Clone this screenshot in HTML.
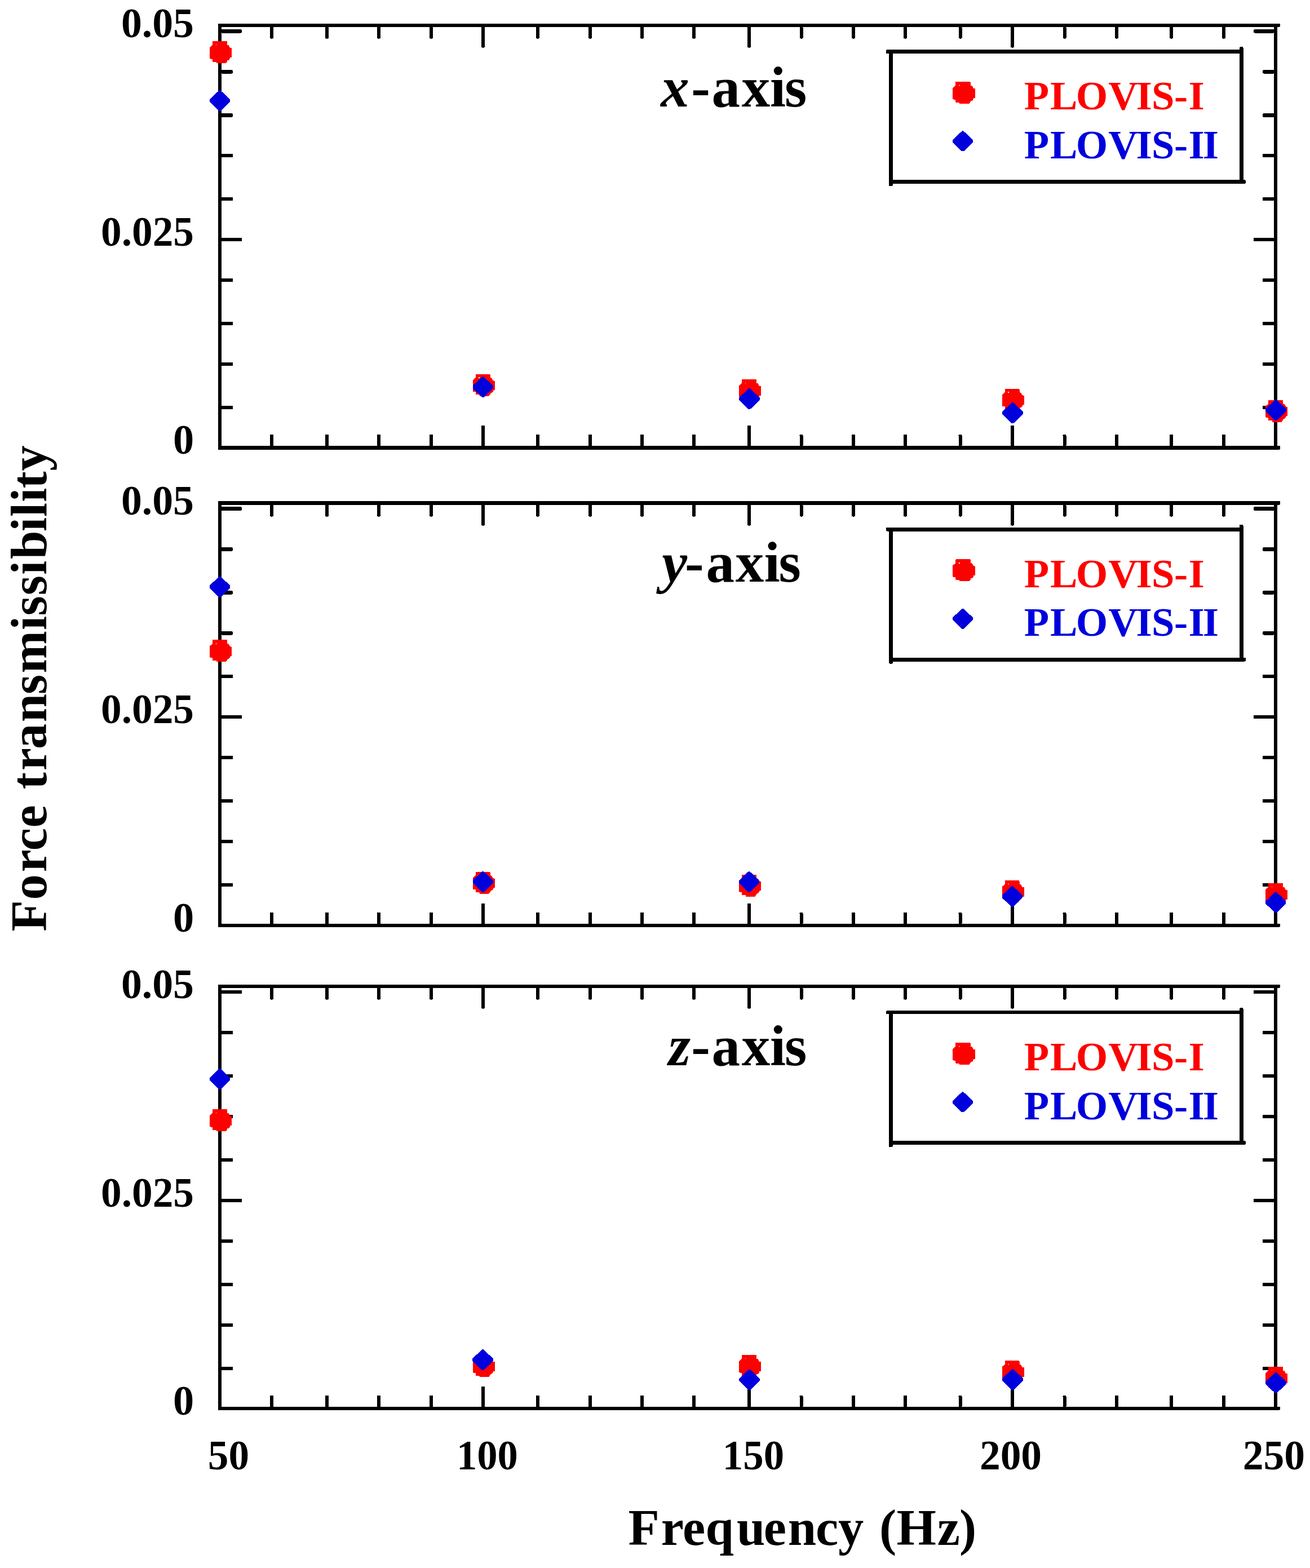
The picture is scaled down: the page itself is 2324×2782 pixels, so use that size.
<!DOCTYPE html>
<html lang="en">
<head>
<meta charset="utf-8">
<title>Force transmissibility vs. frequency</title>
<style>
html, body { margin: 0; padding: 0; background: #ffffff; }
body { width: 2324px; height: 2782px; overflow: hidden; }
svg { display: block; font-family: "Liberation Serif", "DejaVu Serif", serif; font-weight: bold; font-kerning: none; }
svg text { white-space: pre; }
svg rect, svg path { shape-rendering: crispEdges; }
</style>
</head>
<body>
<svg width="2324" height="2782" viewBox="0 0 2324 2782" role="img" aria-label="Force transmissibility versus frequency for PLOVIS-I and PLOVIS-II along the x, y and z axes">
<rect x="0" y="0" width="2324" height="2782" fill="#ffffff"/>
<g class="panel panel-x">
<g class="ticks">
<rect x="392" y="52.05" width="37" height="6.5" rx="2"/>
<rect x="2224" y="52.05" width="37" height="6.5" rx="2"/>
<rect x="392" y="124.05" width="21" height="6.5" rx="2"/>
<rect x="2240" y="124.05" width="21" height="6.5" rx="2"/>
<rect x="392" y="201.25" width="21" height="6.5" rx="2"/>
<rect x="2240" y="201.25" width="21" height="6.5" rx="2"/>
<rect x="392" y="272.65" width="21" height="6.5" rx="2"/>
<rect x="2240" y="272.65" width="21" height="6.5" rx="2"/>
<rect x="392" y="349.65" width="21" height="6.5" rx="2"/>
<rect x="2240" y="349.65" width="21" height="6.5" rx="2"/>
<rect x="392" y="421.55" width="37" height="6.5" rx="2"/>
<rect x="2224" y="421.55" width="37" height="6.5" rx="2"/>
<rect x="392" y="493.65" width="21" height="6.5" rx="2"/>
<rect x="2240" y="493.65" width="21" height="6.5" rx="2"/>
<rect x="392" y="570.55" width="21" height="6.5" rx="2"/>
<rect x="2240" y="570.55" width="21" height="6.5" rx="2"/>
<rect x="392" y="642.55" width="21" height="6.5" rx="2"/>
<rect x="2240" y="642.55" width="21" height="6.5" rx="2"/>
<rect x="392" y="719.75" width="21" height="6.5" rx="2"/>
<rect x="2240" y="719.75" width="21" height="6.5" rx="2"/>
<rect x="479" y="47" width="6" height="21.5" rx="2"/>
<rect x="479" y="770.5" width="6" height="21.5" rx="2"/>
<rect x="577" y="47" width="6" height="21.5" rx="2"/>
<rect x="577" y="770.5" width="6" height="21.5" rx="2"/>
<rect x="669" y="47" width="6" height="21.5" rx="2"/>
<rect x="669" y="770.5" width="6" height="21.5" rx="2"/>
<rect x="762" y="47" width="6" height="21.5" rx="2"/>
<rect x="762" y="770.5" width="6" height="21.5" rx="2"/>
<rect x="854" y="47" width="6" height="37.5" rx="2"/>
<rect x="854" y="754.5" width="6" height="37.5" rx="2"/>
<rect x="951" y="47" width="6" height="21.5" rx="2"/>
<rect x="951" y="770.5" width="6" height="21.5" rx="2"/>
<rect x="1044" y="47" width="6" height="21.5" rx="2"/>
<rect x="1044" y="770.5" width="6" height="21.5" rx="2"/>
<rect x="1136" y="47" width="6" height="21.5" rx="2"/>
<rect x="1136" y="770.5" width="6" height="21.5" rx="2"/>
<rect x="1228" y="47" width="6" height="21.5" rx="2"/>
<rect x="1228" y="770.5" width="6" height="21.5" rx="2"/>
<rect x="1326" y="47" width="6" height="37.5" rx="2"/>
<rect x="1326" y="754.5" width="6" height="37.5" rx="2"/>
<rect x="1418.5" y="47" width="6" height="21.5" rx="2"/>
<rect x="1418.5" y="770.5" width="6" height="21.5" rx="2"/>
<rect x="1511" y="47" width="6" height="21.5" rx="2"/>
<rect x="1511" y="770.5" width="6" height="21.5" rx="2"/>
<rect x="1603" y="47" width="6" height="21.5" rx="2"/>
<rect x="1603" y="770.5" width="6" height="21.5" rx="2"/>
<rect x="1700.5" y="47" width="6" height="21.5" rx="2"/>
<rect x="1700.5" y="770.5" width="6" height="21.5" rx="2"/>
<rect x="1793" y="47" width="6" height="37.5" rx="2"/>
<rect x="1793" y="754.5" width="6" height="37.5" rx="2"/>
<rect x="1885.5" y="47" width="6" height="21.5" rx="2"/>
<rect x="1885.5" y="770.5" width="6" height="21.5" rx="2"/>
<rect x="1978" y="47" width="6" height="21.5" rx="2"/>
<rect x="1978" y="770.5" width="6" height="21.5" rx="2"/>
<rect x="2075" y="47" width="6" height="21.5" rx="2"/>
<rect x="2075" y="770.5" width="6" height="21.5" rx="2"/>
<rect x="2168" y="47" width="6" height="21.5" rx="2"/>
<rect x="2168" y="770.5" width="6" height="21.5" rx="2"/>
</g>
<g class="frame">
<rect x="387" y="42" width="1884" height="6" rx="2"/>
<rect x="387" y="791" width="1884" height="7" rx="2"/>
<rect x="387" y="42" width="6" height="756" fill="#000"/>
<rect x="2260" y="42" width="6" height="756" fill="#000"/>
</g>
<g class="ylabels">
<text transform="translate(214.89 66) scale(0.9837 1)" font-size="75">0.05</text>
<text transform="translate(179.11 435.5) scale(0.9770 1)" font-size="75">0.025</text>
<text transform="translate(306.97 805) scale(0.9910 1)" font-size="75">0</text>
</g>
<g class="series">
<path d="M377.5 72.9L402.5 72.9L403.0 74.7L403.0 79.7L405.7 80.2L408.0 84.7L411.0 85.2L411.0 101.6L408.0 102.1L408.0 103.9L405.7 106.7L403.0 107.1L403.0 108.9L400.7 111.9L384.3 111.9L383.8 109.8L377.5 109.8L377.0 104.8L374.3 104.8L372.0 103.4L372.0 84.3L372.5 83.8L377.0 79.7L377.0 73.8Z" fill="#ff0000"/>
<rect x="382.9" y="78.8" width="1.3" height="1.5" fill="#fff"/>
<path d="M844.0 663.5L869.0 663.5L869.5 665.3L869.5 670.3L872.2 670.8L874.5 675.3L877.5 675.8L877.5 692.2L874.5 692.7L874.5 694.5L872.2 697.3L869.5 697.7L869.5 699.5L867.2 702.5L850.8 702.5L850.3 700.4L844.0 700.4L843.5 695.4L840.8 695.4L838.5 694.0L838.5 674.9L839.0 674.4L843.5 670.3L843.5 664.4Z" fill="#ff0000"/>
<rect x="849.4" y="669.4" width="1.3" height="1.5" fill="#fff"/>
<path d="M1316.5 673.0L1341.5 673.0L1342.0 674.8L1342.0 679.8L1344.7 680.3L1347.0 684.8L1350.0 685.3L1350.0 701.7L1347.0 702.2L1347.0 704.0L1344.7 706.8L1342.0 707.2L1342.0 709.0L1339.7 712.0L1323.3 712.0L1322.8 709.9L1316.5 709.9L1316.0 704.9L1313.3 704.9L1311.0 703.5L1311.0 684.4L1311.5 683.9L1316.0 679.8L1316.0 673.9Z" fill="#ff0000"/>
<rect x="1321.9" y="678.9" width="1.3" height="1.5" fill="#fff"/>
<path d="M1783.0 689.5L1808.0 689.5L1808.5 691.3L1808.5 696.3L1811.2 696.8L1813.5 701.3L1816.5 701.8L1816.5 718.2L1813.5 718.7L1813.5 720.5L1811.2 723.3L1808.5 723.7L1808.5 725.5L1806.2 728.5L1789.8 728.5L1789.3 726.4L1783.0 726.4L1782.5 721.4L1779.8 721.4L1777.5 720.0L1777.5 700.9L1778.0 700.4L1782.5 696.3L1782.5 690.4Z" fill="#ff0000"/>
<rect x="1788.4" y="695.4" width="1.3" height="1.5" fill="#fff"/>
<path d="M2250.5 709.5L2275.5 709.5L2276.0 711.3L2276.0 716.3L2278.7 716.8L2281.0 721.3L2284.0 721.8L2284.0 738.2L2281.0 738.7L2281.0 740.5L2278.7 743.3L2276.0 743.7L2276.0 745.5L2273.7 748.5L2257.3 748.5L2256.8 746.4L2250.5 746.4L2250.0 741.4L2247.3 741.4L2245.0 740.0L2245.0 720.9L2245.5 720.4L2250.0 716.3L2250.0 710.4Z" fill="#ff0000"/>
<rect x="2255.9" y="715.4" width="1.3" height="1.5" fill="#fff"/>
<path d="M389.0 160.2L391.0 160.2L408.1 176.3L408.1 180.9L391.7 196.9L388.3 196.9L371.9 180.9L371.9 176.3Z" fill="#0000dc"/>
<path d="M855.7 668.1L857.7 668.1L874.8 684.2L874.8 688.8L858.4 704.8L855.0 704.8L838.6 688.8L838.6 684.2Z" fill="#0000dc"/>
<path d="M1328.5 689.1L1330.5 689.1L1347.6 705.2L1347.6 709.8L1331.2 725.8L1327.8 725.8L1311.4 709.8L1311.4 705.2Z" fill="#0000dc"/>
<path d="M1795.5 714.1L1797.5 714.1L1814.6 730.2L1814.6 734.8L1798.2 750.8L1794.8 750.8L1778.4 734.8L1778.4 730.2Z" fill="#0000dc"/>
<path d="M2262.5 709.1L2264.5 709.1L2281.6 725.2L2281.6 729.8L2265.2 745.8L2261.8 745.8L2245.4 729.8L2245.4 725.2Z" fill="#0000dc"/>
</g>
<g class="legend">
<rect x="1572" y="88" width="633" height="7" rx="2"/>
<rect x="1578" y="319" width="632" height="7" rx="2.5"/>
<rect x="1577" y="88" width="7" height="242" rx="2"/>
<rect x="2199" y="83" width="6.5" height="243" rx="2"/>
<path d="M1695.6 144.9L1721.3 144.9L1721.8 146.7L1721.8 151.7L1724.6 152.2L1726.9 156.7L1730.0 157.2L1730.0 173.6L1726.9 174.1L1726.9 175.9L1724.6 178.7L1721.8 179.1L1721.8 180.9L1719.4 183.9L1702.6 183.9L1702.1 181.8L1695.6 181.8L1695.1 176.8L1692.4 176.8L1690.0 175.4L1690.0 156.3L1690.5 155.8L1695.1 151.7L1695.1 145.8Z" fill="#ff0000"/>
<rect x="1701.4" y="150.8" width="1.3" height="1.5" fill="#fff"/>
<path d="M1707.0 232.2L1709.0 232.2L1725.8 248.0L1725.8 252.6L1709.7 268.3L1706.3 268.3L1690.2 252.6L1690.2 248.0Z" fill="#0000dc"/>
<text x="1816.8 1862.9 1908.8 1966.2 2015.5 2043.0 2083.1 2108.5" y="194.1" font-size="72.6" fill="#ff0000">PLOVIS-I</text>
<text x="1816.8 1862.9 1908.8 1966.2 2015.5 2043.0 2083.1 2108.5 2133.8" y="280.8" font-size="72.6" fill="#0000dc">PLOVIS-II</text>
</g>
<text class="plabel" x="1172.2 1226.2 1262.6 1315.7 1365.9 1392.0" y="189.4" font-size="101"><tspan font-style="italic">x</tspan>-axis</text>
</g>
<g class="panel panel-y">
<g class="ticks">
<rect x="392" y="899.25" width="37" height="6.5" rx="2"/>
<rect x="2224" y="899.25" width="37" height="6.5" rx="2"/>
<rect x="392" y="971.25" width="21" height="6.5" rx="2"/>
<rect x="2240" y="971.25" width="21" height="6.5" rx="2"/>
<rect x="392" y="1048.05" width="21" height="6.5" rx="2"/>
<rect x="2240" y="1048.05" width="21" height="6.5" rx="2"/>
<rect x="392" y="1120.05" width="21" height="6.5" rx="2"/>
<rect x="2240" y="1120.05" width="21" height="6.5" rx="2"/>
<rect x="392" y="1196.85" width="21" height="6.5" rx="2"/>
<rect x="2240" y="1196.85" width="21" height="6.5" rx="2"/>
<rect x="392" y="1268.55" width="37" height="6.5" rx="2"/>
<rect x="2224" y="1268.55" width="37" height="6.5" rx="2"/>
<rect x="392" y="1340.55" width="21" height="6.5" rx="2"/>
<rect x="2240" y="1340.55" width="21" height="6.5" rx="2"/>
<rect x="392" y="1417.75" width="21" height="6.5" rx="2"/>
<rect x="2240" y="1417.75" width="21" height="6.5" rx="2"/>
<rect x="392" y="1489.75" width="21" height="6.5" rx="2"/>
<rect x="2240" y="1489.75" width="21" height="6.5" rx="2"/>
<rect x="392" y="1566.75" width="21" height="6.5" rx="2"/>
<rect x="2240" y="1566.75" width="21" height="6.5" rx="2"/>
<rect x="479" y="895" width="6" height="21.5" rx="2"/>
<rect x="479" y="1618.5" width="6" height="21.5" rx="2"/>
<rect x="577" y="895" width="6" height="21.5" rx="2"/>
<rect x="577" y="1618.5" width="6" height="21.5" rx="2"/>
<rect x="669" y="895" width="6" height="21.5" rx="2"/>
<rect x="669" y="1618.5" width="6" height="21.5" rx="2"/>
<rect x="762" y="895" width="6" height="21.5" rx="2"/>
<rect x="762" y="1618.5" width="6" height="21.5" rx="2"/>
<rect x="854" y="895" width="6" height="37.5" rx="2"/>
<rect x="854" y="1602.5" width="6" height="37.5" rx="2"/>
<rect x="951" y="895" width="6" height="21.5" rx="2"/>
<rect x="951" y="1618.5" width="6" height="21.5" rx="2"/>
<rect x="1044" y="895" width="6" height="21.5" rx="2"/>
<rect x="1044" y="1618.5" width="6" height="21.5" rx="2"/>
<rect x="1136" y="895" width="6" height="21.5" rx="2"/>
<rect x="1136" y="1618.5" width="6" height="21.5" rx="2"/>
<rect x="1228" y="895" width="6" height="21.5" rx="2"/>
<rect x="1228" y="1618.5" width="6" height="21.5" rx="2"/>
<rect x="1326" y="895" width="6" height="37.5" rx="2"/>
<rect x="1326" y="1602.5" width="6" height="37.5" rx="2"/>
<rect x="1418.5" y="895" width="6" height="21.5" rx="2"/>
<rect x="1418.5" y="1618.5" width="6" height="21.5" rx="2"/>
<rect x="1511" y="895" width="6" height="21.5" rx="2"/>
<rect x="1511" y="1618.5" width="6" height="21.5" rx="2"/>
<rect x="1603" y="895" width="6" height="21.5" rx="2"/>
<rect x="1603" y="1618.5" width="6" height="21.5" rx="2"/>
<rect x="1700.5" y="895" width="6" height="21.5" rx="2"/>
<rect x="1700.5" y="1618.5" width="6" height="21.5" rx="2"/>
<rect x="1793" y="895" width="6" height="37.5" rx="2"/>
<rect x="1793" y="1602.5" width="6" height="37.5" rx="2"/>
<rect x="1885.5" y="895" width="6" height="21.5" rx="2"/>
<rect x="1885.5" y="1618.5" width="6" height="21.5" rx="2"/>
<rect x="1978" y="895" width="6" height="21.5" rx="2"/>
<rect x="1978" y="1618.5" width="6" height="21.5" rx="2"/>
<rect x="2075" y="895" width="6" height="21.5" rx="2"/>
<rect x="2075" y="1618.5" width="6" height="21.5" rx="2"/>
<rect x="2168" y="895" width="6" height="21.5" rx="2"/>
<rect x="2168" y="1618.5" width="6" height="21.5" rx="2"/>
</g>
<g class="frame">
<rect x="387" y="889" width="1884" height="7" rx="2"/>
<rect x="387" y="1639" width="1884" height="6" rx="2"/>
<rect x="387" y="889" width="6" height="756" fill="#000"/>
<rect x="2260" y="889" width="6" height="756" fill="#000"/>
</g>
<g class="ylabels">
<text transform="translate(214.89 913.2) scale(0.9837 1)" font-size="75">0.05</text>
<text transform="translate(179.11 1282.5) scale(0.9770 1)" font-size="75">0.025</text>
<text transform="translate(306.97 1652.5) scale(0.9910 1)" font-size="75">0</text>
</g>
<g class="series">
<path d="M377.5 1135.4L402.5 1135.4L403.0 1137.2L403.0 1142.2L405.7 1142.7L408.0 1147.2L411.0 1147.7L411.0 1164.1L408.0 1164.6L408.0 1166.4L405.7 1169.2L403.0 1169.6L403.0 1171.4L400.7 1174.4L384.3 1174.4L383.8 1172.3L377.5 1172.3L377.0 1167.3L374.3 1167.3L372.0 1165.9L372.0 1146.8L372.5 1146.3L377.0 1142.2L377.0 1136.3Z" fill="#ff0000"/>
<rect x="382.9" y="1141.3" width="1.3" height="1.5" fill="#fff"/>
<path d="M844.0 1546.5L869.0 1546.5L869.5 1548.3L869.5 1553.3L872.2 1553.8L874.5 1558.3L877.5 1558.8L877.5 1575.2L874.5 1575.7L874.5 1577.5L872.2 1580.3L869.5 1580.7L869.5 1582.5L867.2 1585.5L850.8 1585.5L850.3 1583.4L844.0 1583.4L843.5 1578.4L840.8 1578.4L838.5 1577.0L838.5 1557.9L839.0 1557.4L843.5 1553.3L843.5 1547.4Z" fill="#ff0000"/>
<rect x="849.4" y="1552.4" width="1.3" height="1.5" fill="#fff"/>
<path d="M1316.5 1551.5L1341.5 1551.5L1342.0 1553.3L1342.0 1558.3L1344.7 1558.8L1347.0 1563.3L1350.0 1563.8L1350.0 1580.2L1347.0 1580.7L1347.0 1582.5L1344.7 1585.3L1342.0 1585.7L1342.0 1587.5L1339.7 1590.5L1323.3 1590.5L1322.8 1588.4L1316.5 1588.4L1316.0 1583.4L1313.3 1583.4L1311.0 1582.0L1311.0 1562.9L1311.5 1562.4L1316.0 1558.3L1316.0 1552.4Z" fill="#ff0000"/>
<rect x="1321.9" y="1557.4" width="1.3" height="1.5" fill="#fff"/>
<path d="M1783.0 1562.0L1808.0 1562.0L1808.5 1563.8L1808.5 1568.8L1811.2 1569.3L1813.5 1573.8L1816.5 1574.3L1816.5 1590.7L1813.5 1591.2L1813.5 1593.0L1811.2 1595.8L1808.5 1596.2L1808.5 1598.0L1806.2 1601.0L1789.8 1601.0L1789.3 1598.9L1783.0 1598.9L1782.5 1593.9L1779.8 1593.9L1777.5 1592.5L1777.5 1573.4L1778.0 1572.9L1782.5 1568.8L1782.5 1562.9Z" fill="#ff0000"/>
<rect x="1788.4" y="1567.9" width="1.3" height="1.5" fill="#fff"/>
<path d="M2250.5 1566.9L2275.5 1566.9L2276.0 1568.7L2276.0 1573.7L2278.7 1574.2L2281.0 1578.7L2284.0 1579.2L2284.0 1595.6L2281.0 1596.1L2281.0 1597.9L2278.7 1600.7L2276.0 1601.1L2276.0 1602.9L2273.7 1605.9L2257.3 1605.9L2256.8 1603.8L2250.5 1603.8L2250.0 1598.8L2247.3 1598.8L2245.0 1597.4L2245.0 1578.3L2245.5 1577.8L2250.0 1573.7L2250.0 1567.8Z" fill="#ff0000"/>
<rect x="2255.9" y="1572.8" width="1.3" height="1.5" fill="#fff"/>
<path d="M389.0 1022.6L391.0 1022.6L408.1 1038.7L408.1 1043.3L391.7 1059.3L388.3 1059.3L371.9 1043.3L371.9 1038.7Z" fill="#0000dc"/>
<path d="M855.7 1545.9L857.7 1545.9L874.8 1562.0L874.8 1566.6L858.4 1582.6L855.0 1582.6L838.6 1566.6L838.6 1562.0Z" fill="#0000dc"/>
<path d="M1328.0 1546.1L1330.0 1546.1L1347.1 1562.2L1347.1 1566.8L1330.7 1582.8L1327.3 1582.8L1310.9 1566.8L1310.9 1562.2Z" fill="#0000dc"/>
<path d="M1794.8 1572.1L1796.8 1572.1L1813.9 1588.2L1813.9 1592.8L1797.5 1608.8L1794.1 1608.8L1777.7 1592.8L1777.7 1588.2Z" fill="#0000dc"/>
<path d="M2262.3 1582.6L2264.3 1582.6L2281.4 1598.7L2281.4 1603.3L2265.0 1619.3L2261.6 1619.3L2245.2 1603.3L2245.2 1598.7Z" fill="#0000dc"/>
</g>
<g class="legend">
<rect x="1572" y="935.5" width="633" height="7" rx="2"/>
<rect x="1578" y="1166.5" width="632" height="7" rx="2.5"/>
<rect x="1577" y="935.5" width="7" height="242" rx="2"/>
<rect x="2199" y="930.5" width="6.5" height="243" rx="2"/>
<path d="M1695.6 992.4L1721.3 992.4L1721.8 994.2L1721.8 999.2L1724.6 999.7L1726.9 1004.2L1730.0 1004.7L1730.0 1021.1L1726.9 1021.6L1726.9 1023.4L1724.6 1026.2L1721.8 1026.6L1721.8 1028.4L1719.4 1031.4L1702.6 1031.4L1702.1 1029.3L1695.6 1029.3L1695.1 1024.3L1692.4 1024.3L1690.0 1022.9L1690.0 1003.8L1690.5 1003.3L1695.1 999.2L1695.1 993.3Z" fill="#ff0000"/>
<rect x="1701.4" y="998.3" width="1.3" height="1.5" fill="#fff"/>
<path d="M1707.0 1079.7L1709.0 1079.7L1725.8 1095.5L1725.8 1100.1L1709.7 1115.8L1706.3 1115.8L1690.2 1100.1L1690.2 1095.5Z" fill="#0000dc"/>
<text x="1816.8 1862.9 1908.8 1966.2 2015.5 2043.0 2083.1 2108.5" y="1041.6" font-size="72.6" fill="#ff0000">PLOVIS-I</text>
<text x="1816.8 1862.9 1908.8 1966.2 2015.5 2043.0 2083.1 2108.5 2133.8" y="1128.3" font-size="72.6" fill="#0000dc">PLOVIS-II</text>
</g>
<text class="plabel" x="1174.2 1215.1 1252.6 1304.7 1355.8 1381.4" y="1031.5" font-size="101"><tspan font-style="italic">y</tspan>-axis</text>
</g>
<g class="panel panel-z">
<g class="ticks">
<rect x="392" y="1756.75" width="37" height="6.5" rx="2"/>
<rect x="2224" y="1756.75" width="37" height="6.5" rx="2"/>
<rect x="392" y="1828.75" width="21" height="6.5" rx="2"/>
<rect x="2240" y="1828.75" width="21" height="6.5" rx="2"/>
<rect x="392" y="1905.75" width="21" height="6.5" rx="2"/>
<rect x="2240" y="1905.75" width="21" height="6.5" rx="2"/>
<rect x="392" y="1977.75" width="21" height="6.5" rx="2"/>
<rect x="2240" y="1977.75" width="21" height="6.5" rx="2"/>
<rect x="392" y="2054.75" width="21" height="6.5" rx="2"/>
<rect x="2240" y="2054.75" width="21" height="6.5" rx="2"/>
<rect x="392" y="2126.75" width="37" height="6.5" rx="2"/>
<rect x="2224" y="2126.75" width="37" height="6.5" rx="2"/>
<rect x="392" y="2198.75" width="21" height="6.5" rx="2"/>
<rect x="2240" y="2198.75" width="21" height="6.5" rx="2"/>
<rect x="392" y="2275.75" width="21" height="6.5" rx="2"/>
<rect x="2240" y="2275.75" width="21" height="6.5" rx="2"/>
<rect x="392" y="2347.75" width="21" height="6.5" rx="2"/>
<rect x="2240" y="2347.75" width="21" height="6.5" rx="2"/>
<rect x="392" y="2424.75" width="21" height="6.5" rx="2"/>
<rect x="2240" y="2424.75" width="21" height="6.5" rx="2"/>
<rect x="479" y="1752" width="6" height="21.5" rx="2"/>
<rect x="479" y="2475.5" width="6" height="21.5" rx="2"/>
<rect x="577" y="1752" width="6" height="21.5" rx="2"/>
<rect x="577" y="2475.5" width="6" height="21.5" rx="2"/>
<rect x="669" y="1752" width="6" height="21.5" rx="2"/>
<rect x="669" y="2475.5" width="6" height="21.5" rx="2"/>
<rect x="762" y="1752" width="6" height="21.5" rx="2"/>
<rect x="762" y="2475.5" width="6" height="21.5" rx="2"/>
<rect x="854" y="1752" width="6" height="37.5" rx="2"/>
<rect x="854" y="2459.5" width="6" height="37.5" rx="2"/>
<rect x="951" y="1752" width="6" height="21.5" rx="2"/>
<rect x="951" y="2475.5" width="6" height="21.5" rx="2"/>
<rect x="1044" y="1752" width="6" height="21.5" rx="2"/>
<rect x="1044" y="2475.5" width="6" height="21.5" rx="2"/>
<rect x="1136" y="1752" width="6" height="21.5" rx="2"/>
<rect x="1136" y="2475.5" width="6" height="21.5" rx="2"/>
<rect x="1228" y="1752" width="6" height="21.5" rx="2"/>
<rect x="1228" y="2475.5" width="6" height="21.5" rx="2"/>
<rect x="1326" y="1752" width="6" height="37.5" rx="2"/>
<rect x="1326" y="2459.5" width="6" height="37.5" rx="2"/>
<rect x="1418.5" y="1752" width="6" height="21.5" rx="2"/>
<rect x="1418.5" y="2475.5" width="6" height="21.5" rx="2"/>
<rect x="1511" y="1752" width="6" height="21.5" rx="2"/>
<rect x="1511" y="2475.5" width="6" height="21.5" rx="2"/>
<rect x="1603" y="1752" width="6" height="21.5" rx="2"/>
<rect x="1603" y="2475.5" width="6" height="21.5" rx="2"/>
<rect x="1700.5" y="1752" width="6" height="21.5" rx="2"/>
<rect x="1700.5" y="2475.5" width="6" height="21.5" rx="2"/>
<rect x="1793" y="1752" width="6" height="37.5" rx="2"/>
<rect x="1793" y="2459.5" width="6" height="37.5" rx="2"/>
<rect x="1885.5" y="1752" width="6" height="21.5" rx="2"/>
<rect x="1885.5" y="2475.5" width="6" height="21.5" rx="2"/>
<rect x="1978" y="1752" width="6" height="21.5" rx="2"/>
<rect x="1978" y="2475.5" width="6" height="21.5" rx="2"/>
<rect x="2075" y="1752" width="6" height="21.5" rx="2"/>
<rect x="2075" y="2475.5" width="6" height="21.5" rx="2"/>
<rect x="2168" y="1752" width="6" height="21.5" rx="2"/>
<rect x="2168" y="2475.5" width="6" height="21.5" rx="2"/>
</g>
<g class="frame">
<rect x="387" y="1747" width="1884" height="6" rx="2"/>
<rect x="387" y="2496" width="1884" height="6" rx="2"/>
<rect x="387" y="1747" width="6" height="755" fill="#000"/>
<rect x="2260" y="1747" width="6" height="755" fill="#000"/>
</g>
<g class="ylabels">
<text transform="translate(214.89 1770.7) scale(0.9837 1)" font-size="75">0.05</text>
<text transform="translate(179.11 2140.7) scale(0.9770 1)" font-size="75">0.025</text>
<text transform="translate(306.97 2509.7) scale(0.9910 1)" font-size="75">0</text>
</g>
<g class="series">
<path d="M377.5 1968.0L402.5 1968.0L403.0 1969.8L403.0 1974.8L405.7 1975.3L408.0 1979.8L411.0 1980.3L411.0 1996.7L408.0 1997.2L408.0 1999.0L405.7 2001.8L403.0 2002.2L403.0 2004.0L400.7 2007.0L384.3 2007.0L383.8 2004.9L377.5 2004.9L377.0 1999.9L374.3 1999.9L372.0 1998.5L372.0 1979.4L372.5 1978.9L377.0 1974.8L377.0 1968.9Z" fill="#ff0000"/>
<rect x="382.9" y="1973.9" width="1.3" height="1.5" fill="#fff"/>
<path d="M844.0 2404.0L869.0 2404.0L869.5 2405.8L869.5 2410.8L872.2 2411.3L874.5 2415.8L877.5 2416.3L877.5 2432.7L874.5 2433.2L874.5 2435.0L872.2 2437.8L869.5 2438.2L869.5 2440.0L867.2 2443.0L850.8 2443.0L850.3 2440.9L844.0 2440.9L843.5 2435.9L840.8 2435.9L838.5 2434.5L838.5 2415.4L839.0 2414.9L843.5 2410.8L843.5 2404.9Z" fill="#ff0000"/>
<rect x="849.4" y="2409.9" width="1.3" height="1.5" fill="#fff"/>
<path d="M1316.5 2404.0L1341.5 2404.0L1342.0 2405.8L1342.0 2410.8L1344.7 2411.3L1347.0 2415.8L1350.0 2416.3L1350.0 2432.7L1347.0 2433.2L1347.0 2435.0L1344.7 2437.8L1342.0 2438.2L1342.0 2440.0L1339.7 2443.0L1323.3 2443.0L1322.8 2440.9L1316.5 2440.9L1316.0 2435.9L1313.3 2435.9L1311.0 2434.5L1311.0 2415.4L1311.5 2414.9L1316.0 2410.8L1316.0 2404.9Z" fill="#ff0000"/>
<rect x="1321.9" y="2409.9" width="1.3" height="1.5" fill="#fff"/>
<path d="M1783.0 2413.9L1808.0 2413.9L1808.5 2415.7L1808.5 2420.7L1811.2 2421.2L1813.5 2425.7L1816.5 2426.2L1816.5 2442.6L1813.5 2443.1L1813.5 2444.9L1811.2 2447.7L1808.5 2448.1L1808.5 2449.9L1806.2 2452.9L1789.8 2452.9L1789.3 2450.8L1783.0 2450.8L1782.5 2445.8L1779.8 2445.8L1777.5 2444.4L1777.5 2425.3L1778.0 2424.8L1782.5 2420.7L1782.5 2414.8Z" fill="#ff0000"/>
<rect x="1788.4" y="2419.8" width="1.3" height="1.5" fill="#fff"/>
<path d="M2250.5 2424.9L2275.5 2424.9L2276.0 2426.7L2276.0 2431.7L2278.7 2432.2L2281.0 2436.7L2284.0 2437.2L2284.0 2453.6L2281.0 2454.1L2281.0 2455.9L2278.7 2458.7L2276.0 2459.1L2276.0 2460.9L2273.7 2463.9L2257.3 2463.9L2256.8 2461.8L2250.5 2461.8L2250.0 2456.8L2247.3 2456.8L2245.0 2455.4L2245.0 2436.3L2245.5 2435.8L2250.0 2431.7L2250.0 2425.8Z" fill="#ff0000"/>
<rect x="2255.9" y="2430.8" width="1.3" height="1.5" fill="#fff"/>
<path d="M389.0 1896.0L391.0 1896.0L408.1 1912.1L408.1 1916.7L391.7 1932.7L388.3 1932.7L371.9 1916.7L371.9 1912.1Z" fill="#0000dc"/>
<path d="M855.5 2394.1L857.5 2394.1L874.6 2410.2L874.6 2414.8L858.2 2430.8L854.8 2430.8L838.4 2414.8L838.4 2410.2Z" fill="#0000dc"/>
<path d="M1328.5 2429.6L1330.5 2429.6L1347.6 2445.7L1347.6 2450.3L1331.2 2466.3L1327.8 2466.3L1311.4 2450.3L1311.4 2445.7Z" fill="#0000dc"/>
<path d="M1795.5 2429.1L1797.5 2429.1L1814.6 2445.2L1814.6 2449.8L1798.2 2465.8L1794.8 2465.8L1778.4 2449.8L1778.4 2445.2Z" fill="#0000dc"/>
<path d="M2262.5 2435.0L2264.5 2435.0L2281.6 2451.1L2281.6 2455.7L2265.2 2471.7L2261.8 2471.7L2245.4 2455.7L2245.4 2451.1Z" fill="#0000dc"/>
</g>
<g class="legend">
<rect x="1572" y="1793" width="633" height="6" rx="2"/>
<rect x="1578" y="2024" width="632" height="7" rx="2.5"/>
<rect x="1577" y="1793" width="7" height="242" rx="2"/>
<rect x="2199" y="1788" width="6.5" height="243" rx="2"/>
<path d="M1695.6 1849.9L1721.3 1849.9L1721.8 1851.7L1721.8 1856.7L1724.6 1857.2L1726.9 1861.7L1730.0 1862.2L1730.0 1878.6L1726.9 1879.1L1726.9 1880.9L1724.6 1883.7L1721.8 1884.1L1721.8 1885.9L1719.4 1888.9L1702.6 1888.9L1702.1 1886.8L1695.6 1886.8L1695.1 1881.8L1692.4 1881.8L1690.0 1880.4L1690.0 1861.3L1690.5 1860.8L1695.1 1856.7L1695.1 1850.8Z" fill="#ff0000"/>
<rect x="1701.4" y="1855.8" width="1.3" height="1.5" fill="#fff"/>
<path d="M1707.0 1937.2L1709.0 1937.2L1725.8 1953.0L1725.8 1957.6L1709.7 1973.3L1706.3 1973.3L1690.2 1957.6L1690.2 1953.0Z" fill="#0000dc"/>
<text x="1816.8 1862.9 1908.8 1966.2 2015.5 2043.0 2083.1 2108.5" y="1899.1" font-size="72.6" fill="#ff0000">PLOVIS-I</text>
<text x="1816.8 1862.9 1908.8 1966.2 2015.5 2043.0 2083.1 2108.5 2133.8" y="1985.8" font-size="72.6" fill="#0000dc">PLOVIS-II</text>
</g>
<text class="plabel" x="1185.8 1226.2 1262.6 1315.7 1365.9 1392.0" y="1889.5" font-size="101"><tspan font-style="italic">z</tspan>-axis</text>
</g>
<g class="xlabels">
<text transform="translate(368.77 2607.2) scale(0.9763 1)" font-size="75">50</text>
<text transform="translate(809.99 2607.2) scale(0.9668 1)" font-size="75">100</text>
<text transform="translate(1281.87 2607.2) scale(0.9707 1)" font-size="75">150</text>
<text transform="translate(1737.92 2607.2) scale(0.9794 1)" font-size="75">200</text>
<text transform="translate(2204.71 2607.2) scale(0.9803 1)" font-size="75">250</text>
</g>
<text class="xtitle" x="1114.4 1172.8 1210.9 1251.4 1307.0 1354.7 1397.7 1446.9 1486.9 1532.2 1560.0 1590.6 1662.8 1702.1" y="2740.8" font-size="90.5">Frequency (Hz)</text>
<text class="ytitle" transform="translate(82.3 1650.9) rotate(-90)" x="-1.5 54.5 103.5 141.6 182.5 222.7 250.3 283.6 322.0 369.7 418.8 456.3 533.0 558.5 594.7 631.1 658.9 707.9 734.0 760.1 784.3 815.3" y="0" font-size="90.5">Force transmissibility</text>
</svg>
</body>
</html>
